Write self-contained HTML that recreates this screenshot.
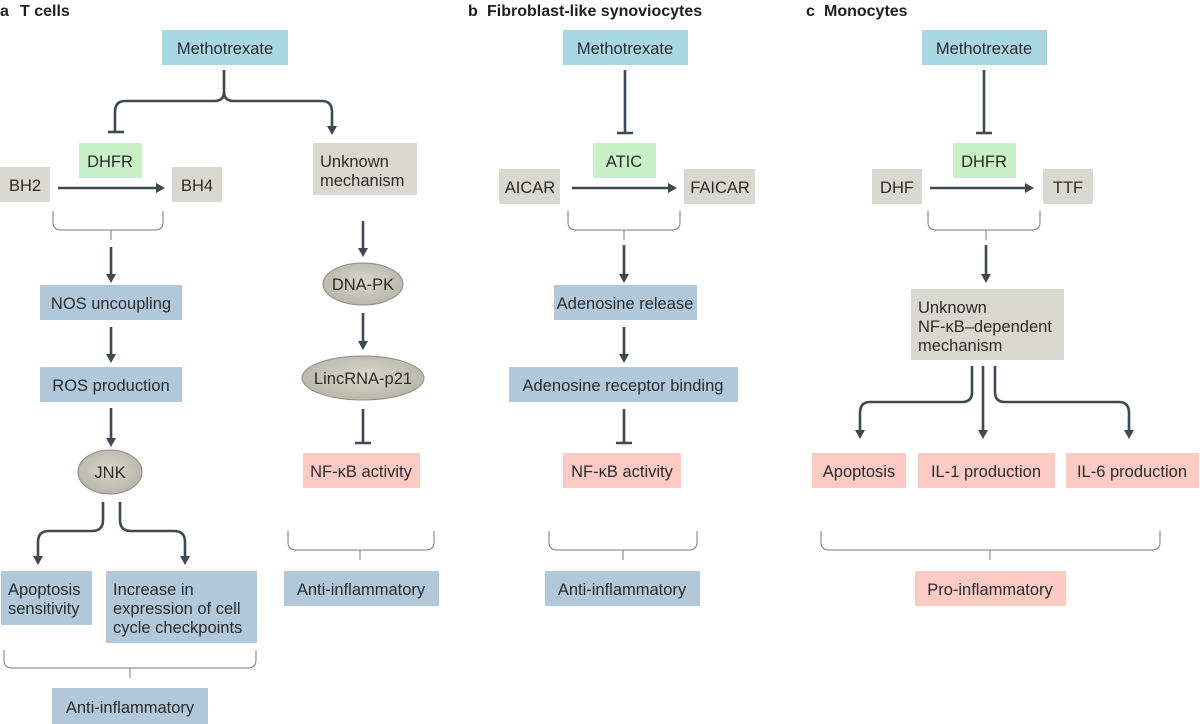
<!DOCTYPE html>
<html><head><meta charset="utf-8"><style>
html,body{margin:0;padding:0;background:#fff;}
svg{display:block;}
text{font-family:"Liberation Sans",sans-serif;font-size:16.5px;fill:#2b2b2b;}
.t{font-weight:bold;font-size:16px;fill:#1e1e1e;}
.ln{stroke:#3e4a50;stroke-width:2.6;fill:none;}
.br{stroke:#7a7a7a;stroke-width:1;fill:none;}
</style></head><body>
<svg width="1200" height="724" viewBox="0 0 1200 724" xmlns="http://www.w3.org/2000/svg">
<defs>
<radialGradient id="eg" cx="50%" cy="45%" r="60%"><stop offset="0" stop-color="#d9d7cb"/><stop offset="1" stop-color="#b5b3a6"/></radialGradient>
</defs>
<text x="0" y="16" class="t">a</text><text x="20" y="16" class="t">T cells</text>
<text x="468" y="16" class="t">b</text><text x="487" y="16" class="t">Fibroblast-like synoviocytes</text>
<text x="806" y="16" class="t">c</text><text x="824" y="16" class="t">Monocytes</text>

<rect x="162" y="30" width="126" height="35" fill="#a8d7e3"/><text x="225" y="54" text-anchor="middle">Methotrexate</text>
<path class="ln" d="M224 70 V92 Q224 101 214 101 H125 Q115 101 115 112 V132"/>
<path class="ln" d="M108 132 H124"/>
<path class="ln" d="M224 92 Q224 101 234 101 H322 Q332 101 332 112 V128"/>
<path d="M327 126 L332 135 L337 126 Z" fill="#3e4a50"/>
<rect x="79" y="143" width="63" height="35" fill="#c8efc5"/><text x="110" y="167" text-anchor="middle">DHFR</text>
<rect x="0" y="167" width="50" height="35" fill="#d8d7d0"/><text x="25" y="191" text-anchor="middle">BH2</text>
<rect x="172" y="167" width="50" height="35" fill="#d8d7d0"/><text x="197" y="191" text-anchor="middle">BH4</text>
<path class="ln" d="M58 188 H158"/><path d="M156 183 L165 188 L156 193 Z" fill="#3e4a50"/>
<path class="br" d="M53 211 V222 Q53 230 61 230 H155 Q163 230 163 222 V211 M111 230 V240"/>
<path class="ln" d="M111 247 V276"/><path d="M106 274 L111 283 L116 274 Z" fill="#3e4a50"/>
<rect x="40" y="285" width="142" height="35" fill="#b1c7da"/><text x="111" y="309" text-anchor="middle">NOS uncoupling</text>
<path class="ln" d="M111 327 V356"/><path d="M106 354 L111 363 L116 354 Z" fill="#3e4a50"/>
<rect x="40" y="367" width="142" height="35" fill="#b1c7da"/><text x="111" y="391" text-anchor="middle">ROS production</text>
<path class="ln" d="M111 408 V440"/><path d="M106 438 L111 447 L116 438 Z" fill="#3e4a50"/>
<ellipse cx="110" cy="472" rx="32" ry="22" fill="url(#eg)" stroke="#8e8c80" stroke-width="1"/><text x="110" y="478" text-anchor="middle">JNK</text>
<path class="ln" d="M103 502 V520 Q103 531 92 531 H49 Q38 531 38 542 V558"/><path d="M33 556 L38 565 L43 556 Z" fill="#3e4a50"/>
<path class="ln" d="M120 502 V520 Q120 531 131 531 H174 Q185 531 185 542 V558"/><path d="M180 556 L185 565 L190 556 Z" fill="#3e4a50"/>
<rect x="1" y="571" width="91" height="54" fill="#b1c7da"/><text x="8" y="595">Apoptosis</text><text x="8" y="614">sensitivity</text>
<rect x="106" y="571" width="151" height="72" fill="#b1c7da"/><text x="113" y="595">Increase in</text><text x="113" y="614">expression of cell</text><text x="113" y="633">cycle checkpoints</text>
<path class="br" d="M4 650 V660 Q4 668 12 668 H248 Q256 668 256 660 V650 M130 668 V678"/>
<rect x="52" y="688" width="156" height="36" fill="#b1c7da"/><text x="130" y="713" text-anchor="middle">Anti-inflammatory</text>

<rect x="313" y="143" width="104" height="52" fill="#d8d7d0"/><text x="320" y="167">Unknown</text><text x="320" y="186">mechanism</text>
<path class="ln" d="M363 221 V250"/><path d="M358 248 L363 257 L368 248 Z" fill="#3e4a50"/>
<ellipse cx="363" cy="284" rx="40" ry="21" fill="url(#eg)" stroke="#8e8c80" stroke-width="1"/><text x="363" y="290" text-anchor="middle">DNA-PK</text>
<path class="ln" d="M363 313 V343"/><path d="M358 341 L363 350 L368 341 Z" fill="#3e4a50"/>
<ellipse cx="363" cy="378" rx="61" ry="22" fill="url(#eg)" stroke="#8e8c80" stroke-width="1"/><text x="363" y="384" text-anchor="middle">LincRNA-p21</text>
<path class="ln" d="M363 409 V443 M355 443 H371"/>
<rect x="303" y="453" width="117" height="35" fill="#fdcac4"/><text x="361" y="477" text-anchor="middle">NF-κB activity</text>
<path class="br" d="M288 531 V542 Q288 550 296 550 H426 Q434 550 434 542 V531 M360 550 V560"/>
<rect x="284" y="571" width="155" height="35" fill="#b1c7da"/><text x="361" y="595" text-anchor="middle">Anti-inflammatory</text>

<rect x="563" y="30" width="125" height="35" fill="#a8d7e3"/><text x="625" y="54" text-anchor="middle">Methotrexate</text>
<path class="ln" d="M625 70 V133 M617 133 H633"/>
<rect x="593" y="143" width="63" height="35" fill="#c8efc5"/><text x="624" y="167" text-anchor="middle">ATIC</text>
<rect x="499" y="169" width="61" height="35" fill="#d8d7d0"/><text x="530" y="193" text-anchor="middle">AICAR</text>
<rect x="684" y="169" width="71" height="35" fill="#d8d7d0"/><text x="720" y="193" text-anchor="middle">FAICAR</text>
<path class="ln" d="M572 188 H670"/><path d="M668 183 L677 188 L668 193 Z" fill="#3e4a50"/>
<path class="br" d="M568 211 V222 Q568 230 576 230 H672 Q680 230 680 222 V211 M624 230 V240"/>
<path class="ln" d="M624 245 V276"/><path d="M619 274 L624 283 L629 274 Z" fill="#3e4a50"/>
<rect x="554" y="285" width="143" height="35" fill="#b1c7da"/><text x="625" y="309" text-anchor="middle">Adenosine release</text>
<path class="ln" d="M624 327 V356"/><path d="M619 354 L624 363 L629 354 Z" fill="#3e4a50"/>
<rect x="509" y="367" width="229" height="35" fill="#b1c7da"/><text x="623" y="391" text-anchor="middle">Adenosine receptor binding</text>
<path class="ln" d="M624 409 V443 M616 443 H632"/>
<rect x="563" y="453" width="118" height="35" fill="#fdcac4"/><text x="622" y="477" text-anchor="middle">NF-κB activity</text>
<path class="br" d="M549 531 V542 Q549 550 557 550 H689 Q697 550 697 542 V531 M623 550 V560"/>
<rect x="545" y="571" width="155" height="35" fill="#b1c7da"/><text x="622" y="595" text-anchor="middle">Anti-inflammatory</text>

<rect x="922" y="30" width="125" height="35" fill="#a8d7e3"/><text x="984" y="54" text-anchor="middle">Methotrexate</text>
<path class="ln" d="M984 70 V133 M976 133 H992"/>
<rect x="953" y="143" width="63" height="35" fill="#c8efc5"/><text x="984" y="167" text-anchor="middle">DHFR</text>
<rect x="872" y="169" width="50" height="35" fill="#d8d7d0"/><text x="897" y="193" text-anchor="middle">DHF</text>
<rect x="1043" y="169" width="50" height="35" fill="#d8d7d0"/><text x="1068" y="193" text-anchor="middle">TTF</text>
<path class="ln" d="M930 188 H1027"/><path d="M1025 183 L1034 188 L1025 193 Z" fill="#3e4a50"/>
<path class="br" d="M928 211 V222 Q928 230 936 230 H1032 Q1040 230 1040 222 V211 M986 230 V240"/>
<path class="ln" d="M986 245 V276"/><path d="M981 274 L986 283 L991 274 Z" fill="#3e4a50"/>
<rect x="911" y="289" width="153" height="71" fill="#d8d7d0"/><text x="918" y="313">Unknown</text><text x="918" y="332">NF-κB–dependent</text><text x="918" y="351">mechanism</text>
<path class="ln" d="M972 366 V392 Q972 402 962 402 H870 Q860 402 860 413 V432"/><path d="M855 430 L860 439 L865 430 Z" fill="#3e4a50"/>
<path class="ln" d="M983 366 V432"/><path d="M978 430 L983 439 L988 430 Z" fill="#3e4a50"/>
<path class="ln" d="M995 366 V392 Q995 402 1005 402 H1119 Q1129 402 1129 413 V432"/><path d="M1124 430 L1129 439 L1134 430 Z" fill="#3e4a50"/>
<rect x="812" y="453" width="94" height="35" fill="#fdcac4"/><text x="859" y="477" text-anchor="middle">Apoptosis</text>
<rect x="918" y="453" width="137" height="35" fill="#fdcac4"/><text x="986" y="477" text-anchor="middle">IL-1 production</text>
<rect x="1066" y="453" width="133" height="35" fill="#fdcac4"/><text x="1132" y="477" text-anchor="middle">IL-6 production</text>
<path class="br" d="M821 531 V542 Q821 550 829 550 H1152 Q1160 550 1160 542 V531 M990 550 V560"/>
<rect x="915" y="571" width="151" height="35" fill="#fdcac4"/><text x="990" y="595" text-anchor="middle">Pro-inflammatory</text>
</svg>
</body></html>
